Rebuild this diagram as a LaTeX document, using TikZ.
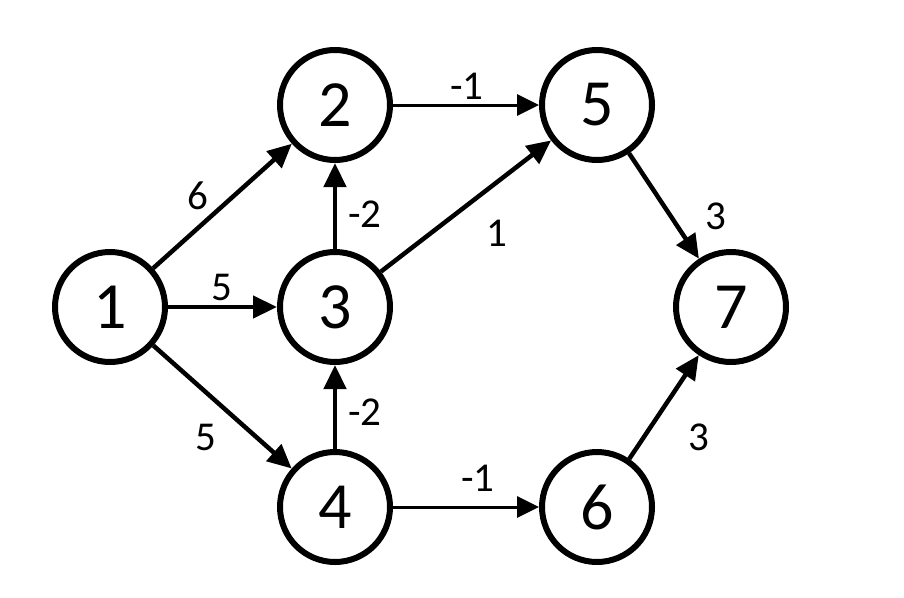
\documentclass[tikz,border=0pt]{standalone}
\usepackage{fontspec}
\setmainfont{Carlito}
\usetikzlibrary{arrows.meta}
\tikzset{
  vtx/.style={circle, draw, line width=6pt, minimum size=110pt, inner sep=0pt,
    font=\fontsize{66}{66}\selectfont},
  edg/.style={line width=4.5pt, -{Triangle[length=24pt,width=22pt]}},
  thinedg/.style={line width=3pt, -{Triangle[length=22pt,width=21pt]}},
  wlab/.style={font=\fontsize{41}{41}\selectfont, inner sep=0pt}
}
\begin{document}
\begin{tikzpicture}[x=1pt,y=-1pt]
\useasboundingbox (0,0) rectangle (904,597);
\fill[white] (0,0) rectangle (904,597);
\node[vtx] (n1) at (110,307) {1};
\node[vtx] (n2) at (335,105) {2};
\node[vtx] (n3) at (335,307) {3};
\node[vtx] (n4) at (335,507) {4};
\node[vtx] (n5) at (597,105) {5};
\node[vtx] (n6) at (597,507) {6};
\node[vtx] (n7) at (731,307) {7};
\draw[edg] (n1) -- (n2);
\draw[edg] (n1) -- (n3);
\draw[edg] (n1) -- (n4);
\draw[edg] (n3) -- (n2);
\draw[edg] (n4) -- (n3);
\draw[edg] (n3) -- (n5);
\draw[thinedg] (n2) -- (n5);
\draw[thinedg] (n4) -- (n6);
\draw[edg] (n5) -- (n7);
\draw[edg] (n6) -- (n7);
\node[wlab] (l12) at (198,196) {6};
\node[wlab] (l13) at (222,287) {5};
\node[wlab] (l14) at (206,437) {5};
\node[wlab] (l32) at (365,214) {-2};
\node[wlab] (l43) at (365,412) {-2};
\node[wlab] (l35) at (497,233) {1};
\node[wlab] (l25) at (467,86) {-1};
\node[wlab] (l46) at (478,478) {-1};
\node[wlab] (l57) at (716,216) {3};
\node[wlab] (l67) at (699,437) {3};
\end{tikzpicture}
\end{document}
